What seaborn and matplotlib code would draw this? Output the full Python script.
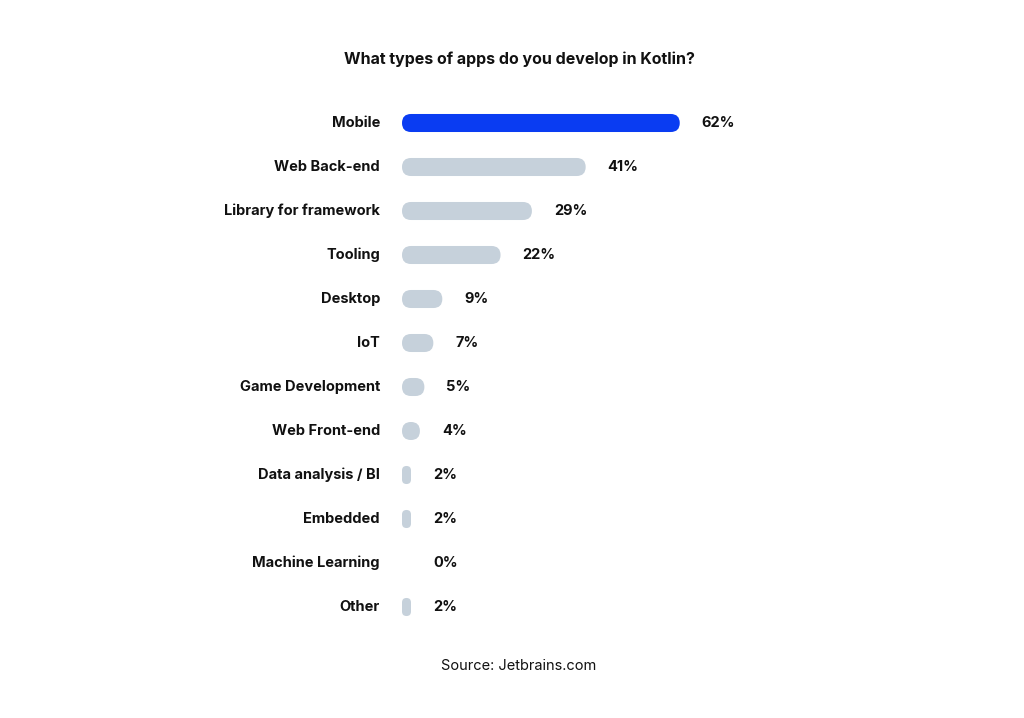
import matplotlib
matplotlib.use("Agg")
import matplotlib.pyplot as plt
import seaborn as sns
import pandas as pd
from matplotlib.patches import FancyBboxPatch

categories = ["Mobile", "Web Back-end", "Library for framework", "Tooling", "Desktop", "IoT",
              "Game Development", "Web Front-end", "Data analysis / BI", "Embedded",
              "Machine Learning", "Other"]
values = [62, 41, 29, 22, 9, 7, 5, 4, 2, 2, 0, 2]
value_labels = [f"{v}%" for v in values]

sns.set_theme(style="white")
plt.rcParams['font.family'] = ['Inter', 'DejaVu Sans']

df = pd.DataFrame({"cat": categories, "val": values})
fig = plt.figure(figsize=(10.24, 7.18), dpi=100)
ax = fig.add_axes([402/1024, 89/718, 313.6/1024, 528/718])
sns.barplot(data=df, x="val", y="cat", orient="h", width=0.41, ax=ax, color="#C6D1DB")
ax.set_xlim(0, 70)
ax.set_ylim(len(categories) - 0.5, -0.5)
for s in ax.spines.values():
    s.set_visible(False)
ax.set_xticks([]); ax.set_yticks([])
ax.set_xlabel(""); ax.set_ylabel("")

fig.canvas.draw()
for i, p in enumerate(list(ax.patches)):
    p.set_visible(False)
    (x0, y0), (x1, y1) = ax.transData.transform([(p.get_x(), p.get_y()), (p.get_x() + p.get_width(), p.get_y() + p.get_height())])
    yb, yt = min(y0, y1), max(y0, y1)
    h = yt - yb
    w = x1 - x0
    if values[i] > 0:
        w = max(w, 9)
        r = min(h, w) / 2
        col = "#0A3CF2" if i == 0 else "#C6D1DB"
        fig.patches.append(FancyBboxPatch((x0, yb), w, h, boxstyle=f"round,pad=0,rounding_size={r}",
                                          transform=None, facecolor=col, edgecolor="none", figure=fig))
    wl = max(w, 9) if values[i] > 0 else 9
    yc = (yb + yt) / 2
    fig.text((x0 + wl + 22) / 1024, yc / 718, value_labels[i], ha="left", va="center",
             fontsize=10.5, fontweight="bold", color="#111111")
    fig.text(380 / 1024, yc / 718, categories[i], ha="right", va="center",
             fontsize=10.5, fontweight="bold", color="#111111")

fig.text(519 / 1024, 1 - 59 / 718, "What types of apps do you develop in Kotlin?", ha="center", va="center",
         fontsize=11.5, fontweight="bold", color="#111111")
fig.text(519 / 1024, 1 - 666 / 718, "Source: Jetbrains.com", ha="center", va="center",
         fontsize=10.5, color="#111111")
fig.savefig("out.png", dpi=100)
